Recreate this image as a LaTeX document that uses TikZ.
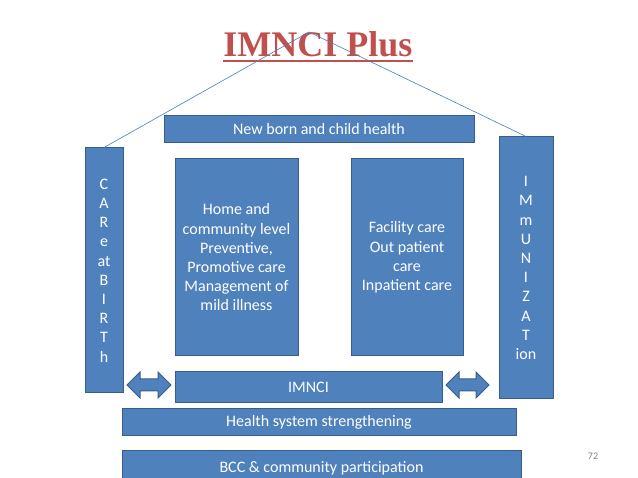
\documentclass[tikz,border=0pt]{standalone}
\usepackage{fontspec}
\setmainfont{Carlito}
\newfontfamily\titlefont{Liberation Serif}
\definecolor{boxfill}{HTML}{4F81BD}
\definecolor{boxline}{HTML}{385D8A}
\definecolor{roofline}{HTML}{4A7EBB}
\definecolor{titlered}{HTML}{C0504D}
\tikzset{
  blockbox/.style={draw=boxline, line width=1pt, fill=boxfill, text=white, inner sep=0pt,
    align=center, font=\fontsize{16}{19.2}\selectfont},
  roof/.style={draw=roofline, line width=0.6pt},
  dblarrow/.style={draw=boxline, line width=1pt, fill=boxfill}
}
\begin{document}
\begin{tikzpicture}[x=1pt,y=-1pt]
\useasboundingbox (0,0) rectangle (638,478);
% title
\node[font=\titlefont\bfseries\fontsize{36}{40}\selectfont, text=titlered, inner sep=0pt, anchor=base] (title) at (318,57) {IMNCI Plus};
\draw[titlered, line width=2pt] (title.base west) ++(0,4) -- ([yshift=-4pt]title.base east);
% boxes
\node[blockbox, minimum width=310, minimum height=27] (newborn) at (319,129.5) {New born and child health};
\node[blockbox, minimum width=38, minimum height=245] (left) at (104,270.5) {C\\A\\R\\e\\at\\B\\I\\R\\T\\h};
\node[blockbox, minimum width=54, minimum height=262] (right) at (526,268) {I\\M\\m\\U\\N\\I\\Z\\A\\T\\ion};
\node[blockbox, minimum width=123, minimum height=197] (home) at (236.5,257.5) {Home and\\community level\\Preventive,\\Promotive care\\Management of\\mild illness};
\node[blockbox, minimum width=112, minimum height=197] (facility) at (407,257.5) {Facility care\\Out patient\\care\\Inpatient care};
\node[blockbox, minimum width=267, minimum height=31] (imnci) at (308.5,387.5) {IMNCI};
\node[blockbox, minimum width=394, minimum height=27] (hss) at (319,422.5) {Health system strengthening};
\node[blockbox, minimum width=399, minimum height=34] (bcc) at (321.5,468) {BCC \& community participation};
% double arrows
\draw[dblarrow] (127,385) -- (140,372) -- (140,379) -- (158,379) -- (158,372) -- (171,385) -- (158,398) -- (158,391) -- (140,391) -- (140,398) -- cycle;
\draw[dblarrow] (446,385) -- (459,372) -- (459,379) -- (476,379) -- (476,372) -- (489,385) -- (476,398) -- (476,391) -- (459,391) -- (459,398) -- cycle;
% roof
\coordinate (apex) at (309,32);
\draw[roof] (left.north) -- (apex) -- (right.north);
% page number
\node[text=gray, font=\fontsize{10}{12}\selectfont, inner sep=0pt] (pagenum) at (593,456) {72};
\end{tikzpicture}
\end{document}
